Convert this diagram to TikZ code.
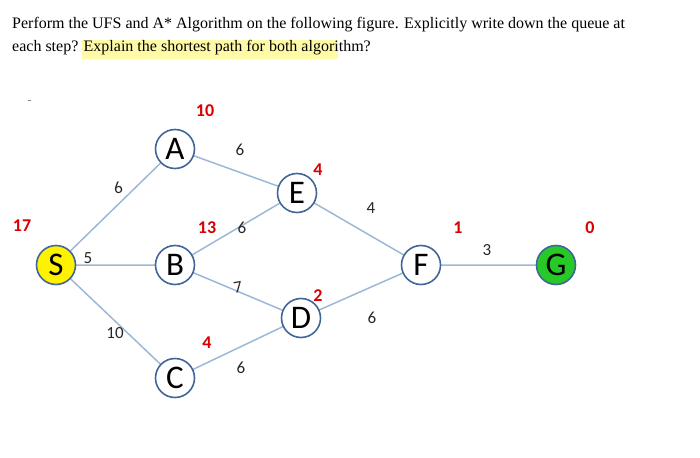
\documentclass[tikz,border=0pt]{standalone}
\usepackage{fontspec}
\setmainfont{Liberation Serif}
\newfontfamily\lab{Carlito}
\definecolor{edgec}{HTML}{9CB8D6}
\definecolor{ringc}{HTML}{41669A}
\begin{document}
\begin{tikzpicture}[x=1pt,y=-1pt,
  vtx/.style={circle,draw=ringc,line width=1.6pt,minimum size=39pt,inner sep=0pt,font=\lab\fontsize{33}{33}\selectfont},
  edg/.style={draw=edgec,line width=1.5pt},
  hv/.style={text=red!85!black,font=\lab\bfseries\fontsize{18}{18}\selectfont},
  wt/.style={text=black!85,font=\lab\fontsize{17}{17}\selectfont}]
\useasboundingbox (0,0) rectangle (700,457);
\fill[yellow!35] (82,40) rectangle (338,59);
\node[anchor=west,font=\fontsize{16}{18}\selectfont,inner sep=0pt] (l1) at (12,25) {Perform the UFS and A* Algorithm on the following figure. Explicitly write down the queue at};
\node[anchor=west,font=\fontsize{16}{18}\selectfont,inner sep=0pt] (l2) at (12,48) {each step? Explain the shortest path for both algorithm?};
\draw[gray] (28,100) -- (31,100);
\path[edg] (56,265)--(175,149) (56,265)--(175,265) (56,265)--(175,378) (175,149)--(297,193) (175,265)--(297,193) (175,265)--(301,318) (175,378)--(301,318) (297,193)--(421,265) (301,318)--(421,265) (421,265)--(556,265);
\node[vtx,fill=yellow] (S) at (56,265) {S};
\node[vtx,fill=white] (A) at (175,149) {A};
\node[vtx,fill=white] (B) at (175,265) {B};
\node[vtx,fill=white] (C) at (175,378) {C};
\node[vtx,fill=white] (E) at (297,193) {E};
\node[vtx,fill=white] (D) at (301,318) {D};
\node[vtx,fill=white] (F) at (421,265) {F};
\node[vtx,fill=green!75!black!85] (G) at (556,265) {G};
\node[hv] (h1) at (22,226) {17};
\node[hv] (h2) at (205,111) {10};
\node[hv] (h3) at (318,170) {4};
\node[hv] (h4) at (207,228) {13};
\node[hv] (h5) at (318,296) {2};
\node[hv] (h6) at (207,343) {4};
\node[hv] (h7) at (458,228) {1};
\node[hv] (h8) at (590,228) {0};
\node[wt,rotate=15] (w1) at (118,188) {6};
\node[wt] (w2) at (88,258) {5};
\node[wt] (w3) at (115,333) {10};
\node[wt] (w4) at (240,150) {6};
\node[wt] (w5) at (371,208) {4};
\node[wt] (w6) at (242,228) {6};
\node[wt,rotate=10] (w7) at (238,287) {7};
\node[wt] (w8) at (372,318) {6};
\node[wt] (w9) at (241,368) {6};
\node[wt] (w10) at (487,250) {3};
\end{tikzpicture}
\end{document}
